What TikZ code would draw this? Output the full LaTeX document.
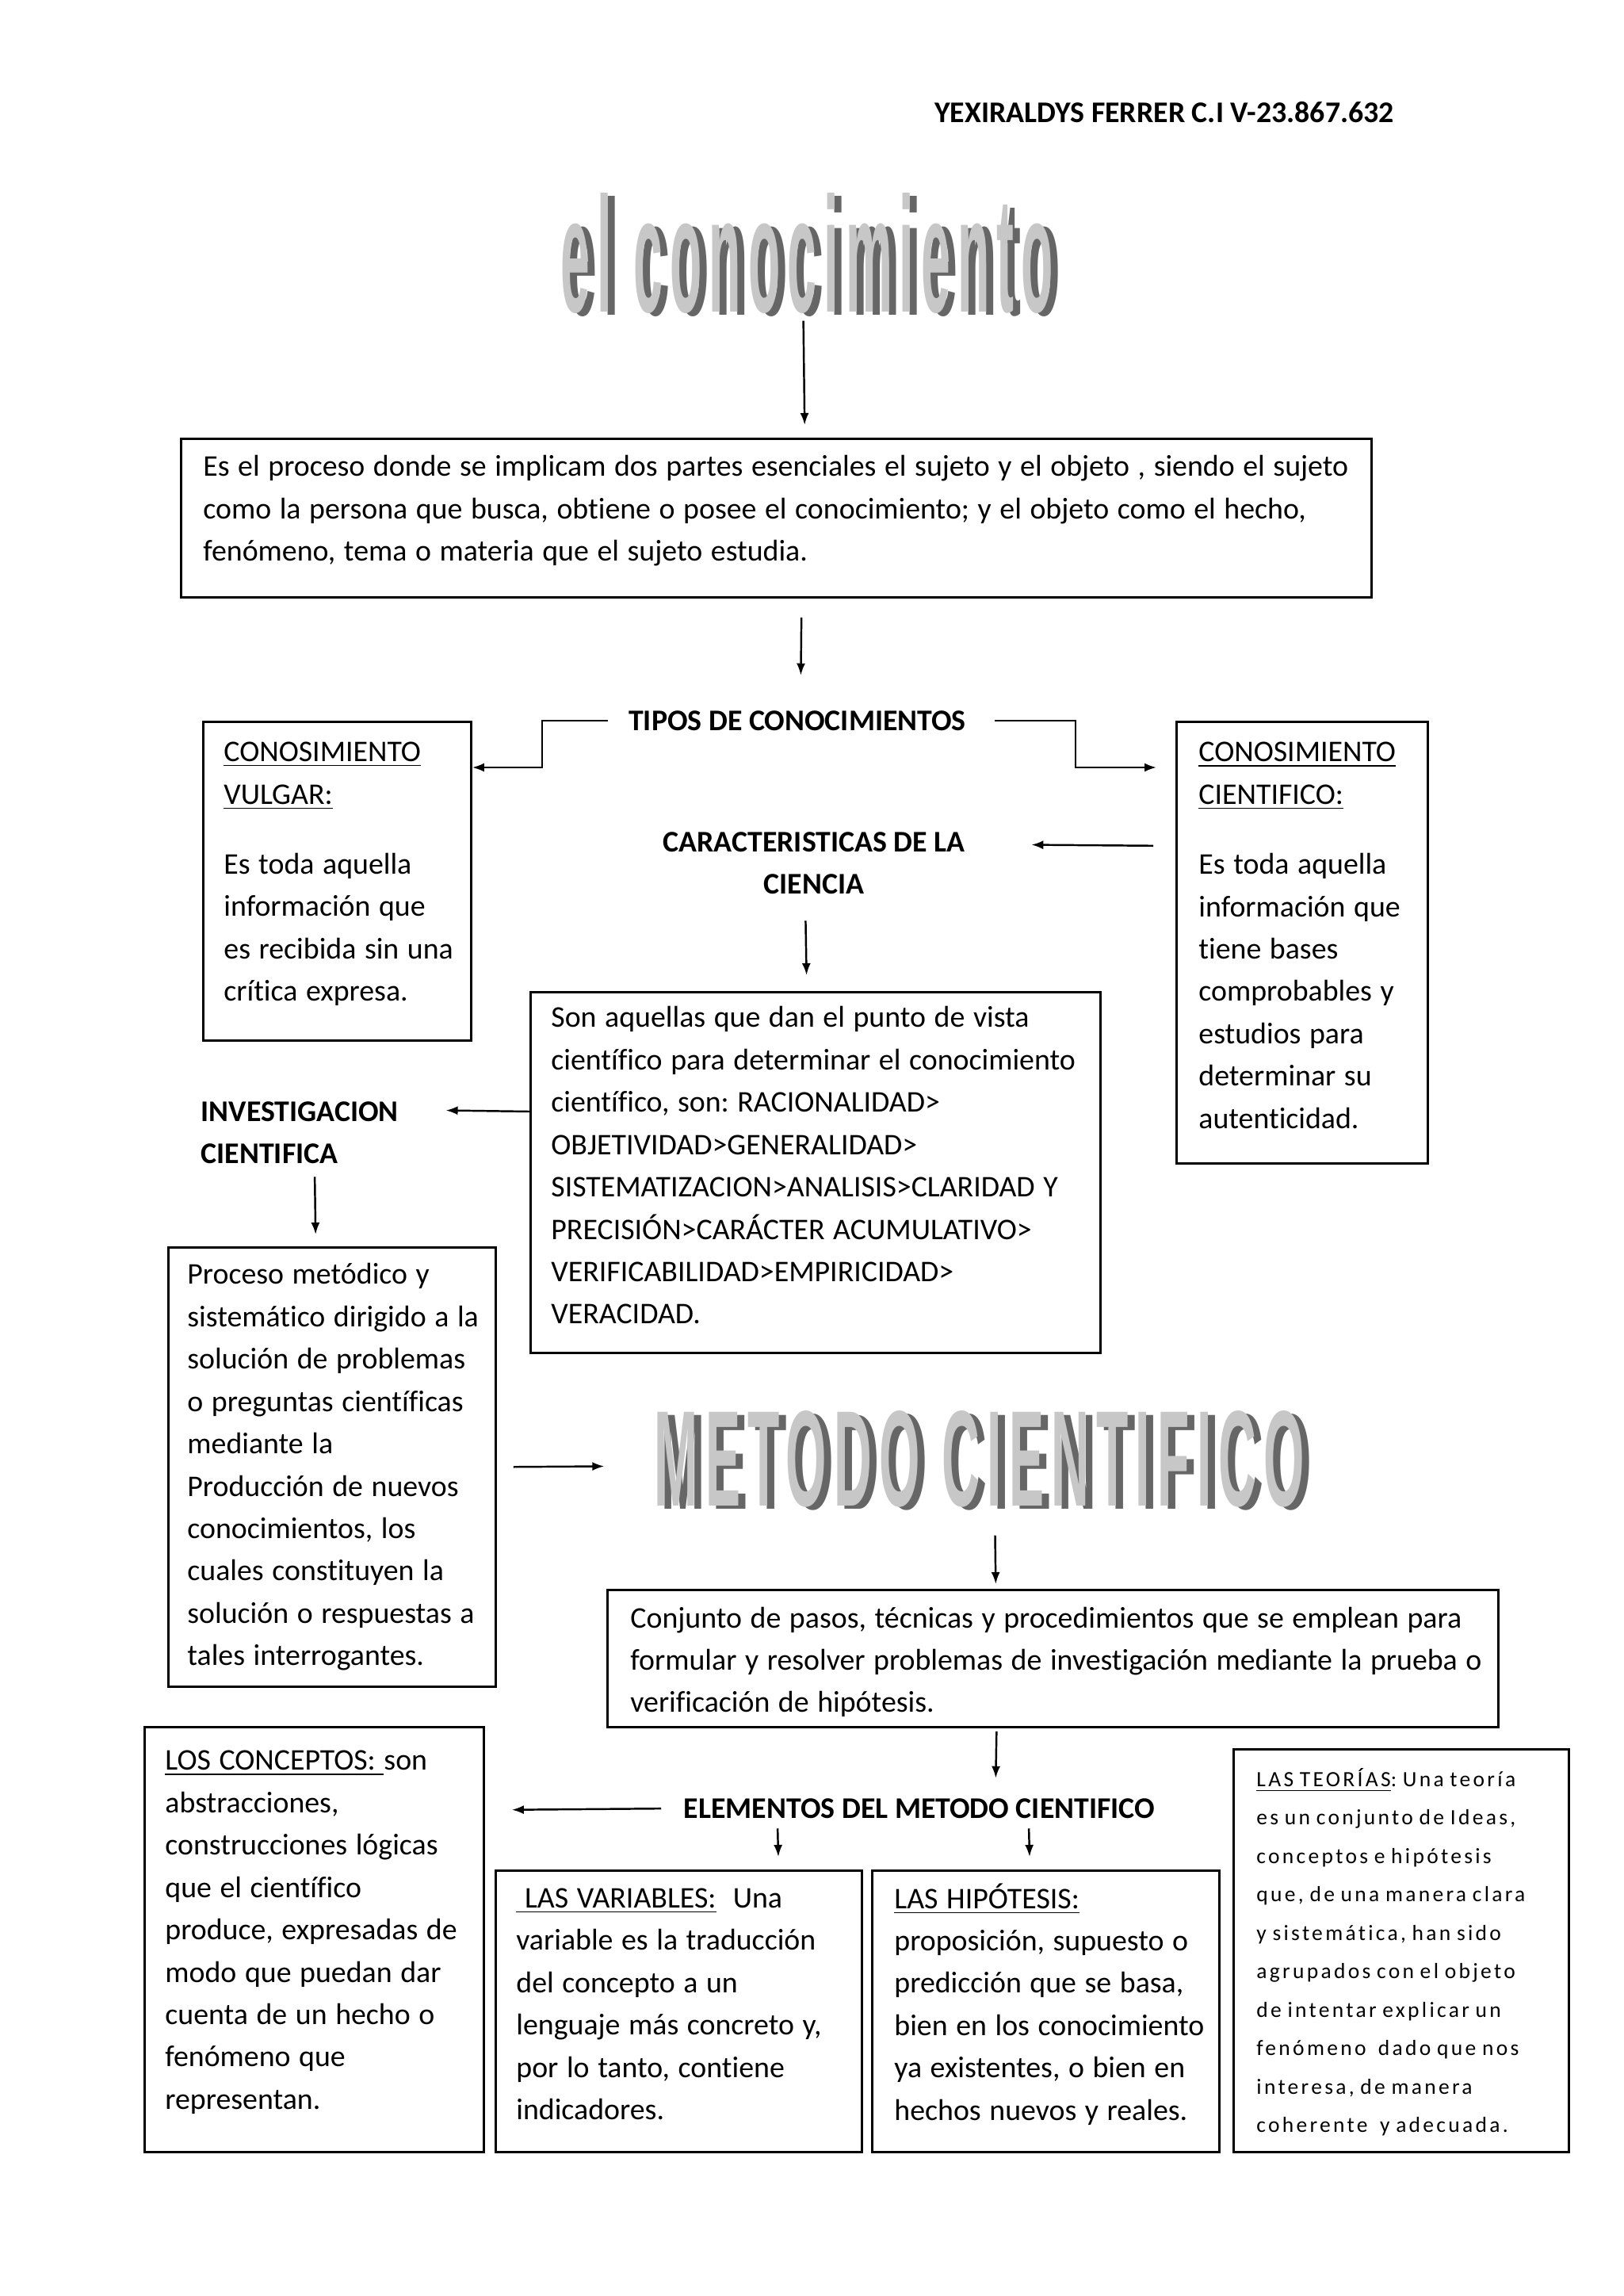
\documentclass[tikz,border=0pt]{standalone}
\usepackage{fontspec}
\setmainfont[Ligatures=NoCommon]{Carlito}
\newfontfamily\artfont[LetterSpace=14]{Liberation Sans}
\newfontfamily\theoryfont[LetterSpace=12, Ligatures=NoCommon]{Carlito}
\usepackage{graphicx}
\usetikzlibrary{arrows.meta}

\newcommand{\bodysize}{\fontsize{10.77}{15.2}\selectfont}
\newcommand{\theorysize}{\theoryfont\fontsize{7.83}{13.8}\selectfont}

\begin{document}
\begin{tikzpicture}[
    box/.style={draw, line width=0.8pt, anchor=north west, align=left,
                font=\bodysize, inner ysep=0pt,
                execute at begin node={\frenchspacing\spaceskip=0.28em\relax
                    \rightskip=0pt plus 1fil minus 1cm\hyphenpenalty=10000\relax},
                execute at end node={\endgraf\kern0.18cm}},
    head/.style={font=\bodysize\bfseries, inner sep=0.07cm},
    arr/.style={-{Latex[length=1.5mm,width=1.1mm]}, line width=0.7pt},
    artfront/.style={inner sep=0pt, text=black!22, font=\artfont\bfseries},
    artshadow/.style={inner sep=0pt, text=black!60, font=\artfont\bfseries},
]

% page
\path[use as bounding box, fill=white] (0,0) rectangle (20.48,-28.96);

% Author
\node[head] (author) at (14.69,-1.42) {YEXIRALDYS FERRER C.I V-23.867.632};

% === Title: el conocimiento ===
\node[artshadow] (titleAsh) at (10.275,-3.24) {\resizebox{6.21cm}{1.5cm}{el conocimiento}};
\node[artfront] (titleA) at (10.185,-3.20) {\resizebox{6.21cm}{1.5cm}{el conocimiento}};

\node[box, text width=14.46cm, inner xsep=0.28cm, minimum height=2.0cm] (box1) at (2.27,-5.52)
    {Es el proceso donde se implicam dos partes esenciales el sujeto y el objeto , siendo el sujeto\\
     como la persona que busca, obtiene o posee el conocimiento; y el objeto como el hecho,\\
     fenómeno, tema o materia que el sujeto estudia.};

% === Tipos de conocimientos ===
\node[head] (tipos) at (10.06,-9.09) {TIPOS DE CONOCIMIENTOS};

\node[box, text width=2.86cm, inner xsep=0.26cm, minimum height=4.02cm] (vulgar) at (2.55,-9.09)
    {\underline{CONOSIMIENTO}\\
     \underline{VULGAR:}\\[0.35cm]
     Es toda aquella\\
     información que\\
     es recibida sin una\\
     crítica expresa.};

\node[box, text width=2.61cm, inner xsep=0.28cm, minimum height=5.57cm] (cient) at (14.83,-9.09)
    {\underline{CONOSIMIENTO}\\
     \underline{CIENTIFICO:}\\[0.35cm]
     Es toda aquella\\
     información que\\
     tiene bases\\
     comprobables y\\
     estudios para\\
     determinar su\\
     autenticidad.};

\node[head, align=center] (carac) at (10.27,-10.885) {CARACTERISTICAS DE LA\\CIENCIA};

\node[box, text width=6.67cm, inner xsep=0.26cm, minimum height=4.55cm] (cbox) at (6.68,-12.50)
    {Son aquellas que dan el punto de vista\\
     científico para determinar el conocimiento\\
     científico, son: RACIONALIDAD>\\
     OBJETIVIDAD>GENERALIDAD>\\
     SISTEMATIZACION>ANALISIS>CLARIDAD Y\\
     PRECISIÓN>CARÁCTER ACUMULATIVO>\\
     VERIFICABILIDAD>EMPIRICIDAD>\\
     VERACIDAD.};

% === Investigacion ===
\node[head, align=left, anchor=west] (inv) at (2.46,-14.285) {INVESTIGACION\\CIENTIFICA};

\node[box, text width=3.65cm, inner xsep=0.24cm, minimum height=5.54cm,
      execute at end node={\kern-0.18cm}] (proceso) at (2.11,-15.72)
    {Proceso metódico y\\
     sistemático dirigido a la\\
     solución de problemas\\
     o preguntas científicas\\
     mediante la\\
     Producción de nuevos\\
     conocimientos, los\\
     cuales constituyen la\\
     solución o respuestas a\\
     tales interrogantes.};

% === Title: metodo cientifico ===
\node[artshadow] (metodoSh) at (12.45,-18.44) {\resizebox{8.2cm}{1.2cm}{METODO CIENTIFICO}};
\node[artfront] (metodo) at (12.36,-18.40) {\resizebox{8.2cm}{1.2cm}{METODO CIENTIFICO}};

\node[box, text width=10.66cm, inner xsep=0.29cm, minimum height=1.73cm,
      execute at end node={\kern-0.27cm}] (conj) at (7.65,-20.04)
    {Conjunto de pasos, técnicas y procedimientos que se emplean para\\
     formular y resolver problemas de investigación mediante la prueba o\\
     verificación de hipótesis.};

\node[head] (elem) at (11.60,-22.81) {ELEMENTOS DEL METODO CIENTIFICO};

% === Elementos ===
\node[box, text width=3.76cm, inner xsep=0.26cm, minimum height=5.36cm] (concep) at (1.81,-21.77)
    {\underline{LOS CONCEPTOS:\ }son\\
     abstracciones,\\
     construcciones lógicas\\
     que el científico\\
     produce, expresadas de\\
     modo que puedan dar\\
     cuenta de un hecho o\\
     fenómeno que\\
     representan.};

\node[box, text width=4.10cm, inner xsep=0.26cm, minimum height=3.55cm] (vari) at (6.24,-23.58)
    {\underline{\ LAS VARIABLES:}~ Una\\
     variable es la traducción\\
     del concepto a un\\
     lenguaje más concreto y,\\
     por lo tanto, contiene\\
     indicadores.};

\node[box, text width=3.82cm, inner xsep=0.28cm, minimum height=3.55cm] (hipo) at (10.99,-23.58)
    {\underline{LAS HIPÓTESIS:}\\
     proposición, supuesto o\\
     predicción que se basa,\\
     bien en los conocimiento\\
     ya existentes, o bien en\\
     hechos nuevos y reales.};

\node[box, font=\theorysize, text width=3.65cm, inner xsep=0.29cm, minimum height=5.08cm,
      execute at end node={\kern-0.22cm}] (teor) at (15.55,-22.05)
    {\underline{LAS TEORÍAS}: Una teoría\\
     es un conjunto de Ideas,\\
     conceptos e hipótesis\\
     que, de una manera clara\\
     y sistemática, han sido\\
     agrupados con el objeto\\
     de intentar explicar un\\
     fenómeno~ dado que nos\\
     interesa, de manera\\
     coherente~ y adecuada.};

% === Connectors ===
\draw[arr, shorten <=0.08cm, shorten >=0.16cm] ([xshift=-0.05cm]titleA.south) -- ([xshift=0.36cm]box1.north);
\draw[arr, shorten <=0.24cm, shorten >=0.37cm] ([xshift=0.32cm]box1.south) -- ([xshift=0.04cm]tipos.north);
\draw[arr, shorten <=0.18cm] (tipos.west) -- ([xshift=0.88cm]vulgar.north east) |- ([yshift=-0.59cm]vulgar.north east);
\draw[arr, shorten <=0.28cm, shorten >=0.24cm] (tipos.east) -- ([xshift=-1.26cm]cient.north west) |- ([yshift=-0.59cm]cient.north west);
\draw[arr, shorten <=0.28cm] ([yshift=-1.58cm]cient.north west) -- ([xshift=0.76cm,yshift=-0.24cm]carac.north east);
\draw[arr, shorten <=0.26cm, shorten >=0.2cm] ([xshift=-0.11cm]carac.south) -- ([xshift=-0.11cm]cbox.north);
\draw[arr] ([yshift=-1.52cm]cbox.north west) -- ([xshift=0.52cm,yshift=-0.19cm]inv.north east);
\draw[arr, shorten <=0.09cm, shorten >=0.15cm] ([xshift=1.51cm]inv.south west) -- ([xshift=-0.205cm]proceso.north);
\draw[arr, shorten <=0.21cm, shorten >=0.63cm] (proceso.east) -- ([yshift=-0.09cm]metodo.west);
\draw[arr, shorten <=0.35cm, shorten >=0.06cm] ([xshift=0.19cm]metodo.south) -- ([xshift=-0.72cm]conj.north);
\draw[arr, shorten <=0.04cm, shorten >=0.18cm] ([xshift=-0.71cm]conj.south) -- ([xshift=0.96cm]elem.north);
\draw[arr, shorten <=0.21cm, shorten >=0.34cm] (elem.west) -- ([yshift=-1.06cm]concep.north east);
\draw[arr, shorten <=0.05cm, shorten >=0.16cm] ([xshift=-1.79cm]elem.south) -- ([xshift=1.26cm]vari.north);
\draw[arr, shorten <=0.05cm, shorten >=0.16cm] ([xshift=1.38cm]elem.south) -- ([xshift=-0.20cm]hipo.north);

\end{tikzpicture}
\end{document}
